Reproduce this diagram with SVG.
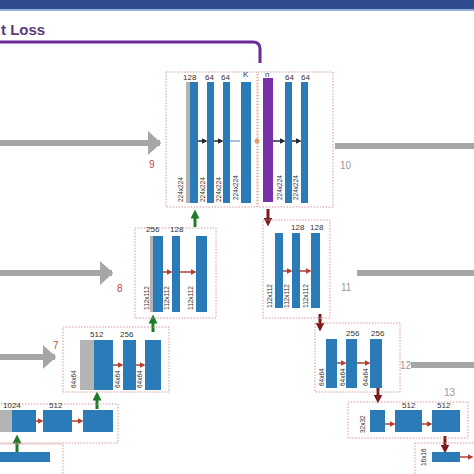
<svg xmlns="http://www.w3.org/2000/svg" width="474" height="474" viewBox="0 0 474 474">
<defs>
<style>
.box{fill:none;stroke:#d89a9a;stroke-width:1;stroke-dasharray:1.5 1.5}
.b{fill:#2b7bb9}
.g{fill:#b4b4b4}
.p{fill:#7a32a8}
.lbl{font-family:"Liberation Sans",Arial,sans-serif;font-size:8px;fill:#333}
.vl{font-family:"Liberation Sans",Arial,sans-serif;font-size:6.5px;fill:#333}
.num{font-family:"Liberation Sans",Arial,sans-serif;font-size:10px;fill:#c04848}
.numr{font-family:"Liberation Sans",Arial,sans-serif;font-size:10px;fill:#999}
.big{stroke:#a6a6a6;stroke-width:6;fill:none}
.sm{stroke:#1e2a3a;stroke-width:1.5;fill:none}
.smr{stroke:#b04030;stroke-width:1.5;fill:none}
</style>
<marker id="ga" markerWidth="4" markerHeight="4" refX="2" refY="2" orient="auto" markerUnits="strokeWidth"><path d="M0,0 L2.2,2 L0,4 z" fill="#a6a6a6"/></marker>
<marker id="da" markerWidth="4" markerHeight="4" refX="3" refY="2" orient="auto" markerUnits="strokeWidth"><path d="M0,0 L4,2 L0,4 z" fill="#1e2a3a"/></marker>
<marker id="ra" markerWidth="4" markerHeight="4" refX="3" refY="2" orient="auto" markerUnits="strokeWidth"><path d="M0,0 L4,2 L0,4 z" fill="#b04030"/></marker>
<marker id="gr" markerWidth="3" markerHeight="3" refX="1.5" refY="1.5" orient="auto" markerUnits="strokeWidth"><path d="M0,0 L3,1.5 L0,3 z" fill="#1f7a2a"/></marker>
<marker id="dr" markerWidth="3" markerHeight="3" refX="1.5" refY="1.5" orient="auto" markerUnits="strokeWidth"><path d="M0,0 L3,1.5 L0,3 z" fill="#7a1a1a"/></marker>
</defs>
<rect x="0" y="0" width="474" height="474" fill="#ffffff"/>
<rect x="0" y="0" width="474" height="9" fill="#2e4b8f"/>
<rect x="0" y="9" width="474" height="2" fill="#8fb0d8"/>
<text x="1" y="35" font-family="Liberation Sans,Arial,sans-serif" font-size="15" font-weight="bold" fill="#5a3a7a">t Loss</text>
<path d="M0,42 L253,42 Q260,42 260,49 L260,63" fill="none" stroke="#6a2a9a" stroke-width="3"/>

<g id="connectors">
<line class="big" x1="0" y1="143" x2="160" y2="143" marker-end="url(#ga)"/>
<line class="big" x1="335" y1="146" x2="474" y2="146"/>
<line class="big" x1="0" y1="273" x2="112" y2="273" marker-end="url(#ga)"/>
<line class="big" x1="357" y1="273" x2="474" y2="273"/>
<line class="big" x1="0" y1="357" x2="55" y2="357" marker-end="url(#ga)"/>
<line class="big" x1="411" y1="365" x2="474" y2="365"/>
<line stroke="#1f7a2a" stroke-width="3" x1="195" y1="227" x2="195" y2="214" marker-end="url(#gr)"/>
<line stroke="#1f7a2a" stroke-width="3" x1="153" y1="332" x2="153" y2="319" marker-end="url(#gr)"/>
<line stroke="#1f7a2a" stroke-width="3" x1="97" y1="409" x2="97" y2="396" marker-end="url(#gr)"/>
<line stroke="#1f7a2a" stroke-width="3" x1="17" y1="452" x2="17" y2="439" marker-end="url(#gr)"/>
<line stroke="#7a1a1a" stroke-width="3" x1="268" y1="209" x2="268" y2="222" marker-end="url(#dr)"/>
<line stroke="#7a1a1a" stroke-width="3" x1="320" y1="314" x2="320" y2="327" marker-end="url(#dr)"/>
<line stroke="#7a1a1a" stroke-width="3" x1="378" y1="386" x2="378" y2="399" marker-end="url(#dr)"/>
<line stroke="#7a1a1a" stroke-width="3" x1="445" y1="436" x2="445" y2="449" marker-end="url(#dr)"/>
</g>

<g id="node9">
<rect class="box" x="166" y="72" width="91" height="135"/>
<rect class="g" x="186" y="82" width="4" height="121"/>
<rect class="b" x="190" y="82" width="8" height="121"/>
<rect class="b" x="207" y="82" width="7" height="121"/>
<rect class="b" x="223" y="82" width="7" height="121"/>
<rect class="b" x="241" y="82" width="10" height="121"/>
<line class="sm" x1="198" y1="141" x2="206" y2="141" marker-end="url(#da)"/>
<line class="sm" x1="214" y1="141" x2="222" y2="141" marker-end="url(#da)"/>
<line stroke="#8ab0d0" stroke-width="1.5" x1="230" y1="141" x2="240" y2="141"/>
<circle cx="257" cy="141" r="2.5" fill="#e0a070"/>
<text class="lbl" x="183" y="80">128</text>
<text class="lbl" x="205" y="80">64</text>
<text class="lbl" x="221" y="80">64</text>
<text class="lbl" x="243" y="77" font-size="7">K</text>
<text class="vl" transform="translate(183,202) rotate(-90)">224x224</text>
<text class="vl" transform="translate(205,202) rotate(-90)">224x224</text>
<text class="vl" transform="translate(221,202) rotate(-90)">224x224</text>
<text class="vl" transform="translate(238,200) rotate(-90)">224x224</text>
<text class="num" x="149" y="168">9</text>
</g>

<g id="node10">
<rect class="box" x="258" y="72" width="75" height="135"/>
<rect class="p" x="263" y="78" width="10" height="124"/>
<rect class="b" x="285" y="82" width="7" height="121"/>
<rect class="b" x="301" y="82" width="7" height="121"/>
<line class="sm" x1="273" y1="141" x2="284" y2="141" marker-end="url(#da)"/>
<line class="sm" x1="292" y1="141" x2="300" y2="141" marker-end="url(#da)"/>
<text class="lbl" x="265" y="77" font-size="7">n</text>
<text class="lbl" x="285" y="80">64</text>
<text class="lbl" x="301" y="80">64</text>
<text class="vl" transform="translate(282,200) rotate(-90)">224x224</text>
<text class="vl" transform="translate(298,200) rotate(-90)">224x224</text>
<text class="numr" x="340" y="169">10</text>
</g>

<g id="node8">
<rect class="box" x="135" y="228" width="81" height="90"/>
<rect class="g" x="150" y="236" width="3" height="76"/>
<rect class="b" x="153" y="236" width="10" height="76"/>
<rect class="b" x="172" y="236" width="8" height="76"/>
<rect class="b" x="196" y="236" width="11" height="76"/>
<line class="smr" x1="163" y1="272" x2="171" y2="272" marker-end="url(#ra)"/>
<line class="smr" x1="180" y1="272" x2="195" y2="272" marker-end="url(#ra)"/>
<text class="lbl" x="146" y="232">256</text>
<text class="lbl" x="170" y="232">128</text>
<text class="vl" transform="translate(149,310) rotate(-90)">112x112</text>
<text class="vl" transform="translate(169,310) rotate(-90)">112x112</text>
<text class="vl" transform="translate(193,310) rotate(-90)">112x112</text>
<text class="num" x="117" y="292">8</text>
</g>

<g id="node11">
<rect class="box" x="263" y="220" width="67" height="98"/>
<rect class="b" x="275" y="233" width="8" height="75"/>
<rect class="b" x="292" y="233" width="8" height="75"/>
<rect class="b" x="311" y="233" width="9" height="75"/>
<line class="smr" x1="283" y1="271" x2="291" y2="271" marker-end="url(#ra)"/>
<line class="smr" x1="300" y1="271" x2="310" y2="271" marker-end="url(#ra)"/>
<text class="lbl" x="291" y="230">128</text>
<text class="lbl" x="310" y="230">128</text>
<text class="vl" transform="translate(272,308) rotate(-90)">112x112</text>
<text class="vl" transform="translate(289,308) rotate(-90)">112x112</text>
<text class="vl" transform="translate(308,308) rotate(-90)">112x112</text>
<text class="numr" x="341" y="291">11</text>
</g>

<g id="node7">
<rect class="box" x="63" y="327" width="106" height="65"/>
<rect class="g" x="80" y="340" width="14" height="50"/>
<rect class="b" x="94" y="340" width="19" height="50"/>
<rect class="b" x="123" y="340" width="13" height="50"/>
<rect class="b" x="145" y="340" width="16" height="50"/>
<line class="smr" x1="113" y1="365" x2="122" y2="365" marker-end="url(#ra)"/>
<line class="smr" x1="136" y1="365" x2="144" y2="365" marker-end="url(#ra)"/>
<text class="lbl" x="90" y="337">512</text>
<text class="lbl" x="120" y="337">256</text>
<text class="vl" transform="translate(76,388) rotate(-90)">64x64</text>
<text class="vl" transform="translate(120,388) rotate(-90)">64x64</text>
<text class="vl" transform="translate(142,388) rotate(-90)">64x64</text>
<text class="num" x="53" y="349">7</text>
</g>

<g id="node12">
<rect class="box" x="315" y="323" width="85" height="69"/>
<rect class="b" x="326" y="339" width="11" height="49"/>
<rect class="b" x="346" y="339" width="11" height="49"/>
<rect class="b" x="370" y="339" width="12" height="49"/>
<line class="smr" x1="337" y1="363" x2="345" y2="363" marker-end="url(#ra)"/>
<line class="smr" x1="357" y1="363" x2="369" y2="363" marker-end="url(#ra)"/>
<text class="lbl" x="346" y="336">256</text>
<text class="lbl" x="371" y="336">256</text>
<text class="vl" transform="translate(324,386) rotate(-90)">64x64</text>
<text class="vl" transform="translate(345,386) rotate(-90)">64x64</text>
<text class="vl" transform="translate(368,386) rotate(-90)">64x64</text>
<text class="numr" x="400" y="369" fill="#d08060">12</text>
</g>

<g id="node6">
<rect class="box" x="-2" y="404" width="120" height="39"/>
<rect class="g" x="0" y="410" width="12" height="22"/>
<rect class="b" x="12" y="410" width="24" height="22"/>
<rect class="b" x="43" y="410" width="29" height="22"/>
<rect class="b" x="83" y="410" width="30" height="22"/>
<line class="smr" x1="36" y1="421" x2="42" y2="421" marker-end="url(#ra)"/>
<line class="smr" x1="72" y1="421" x2="82" y2="421" marker-end="url(#ra)"/>
<text class="lbl" x="3" y="408">1024</text>
<text class="lbl" x="49" y="408">512</text>
</g>

<g id="node5">
<rect class="box" x="-2" y="444" width="65" height="32"/>
<rect class="b" x="0" y="452" width="50" height="10"/>
</g>

<g id="node13">
<rect class="box" x="348" y="402" width="120" height="36"/>
<rect class="b" x="370" y="410" width="15" height="22"/>
<rect class="b" x="395" y="410" width="27" height="22"/>
<rect class="b" x="432" y="410" width="28" height="22"/>
<line class="smr" x1="385" y1="424" x2="394" y2="424" marker-end="url(#ra)"/>
<line class="smr" x1="422" y1="424" x2="431" y2="424" marker-end="url(#ra)"/>
<text class="lbl" x="402" y="408">512</text>
<text class="lbl" x="437" y="408">512</text>
<text class="vl" transform="translate(365,433) rotate(-90)">32x32</text>
<text class="numr" x="444" y="396">13</text>
</g>

<g id="node14">
<rect class="box" x="415" y="443" width="62" height="33"/>
<rect class="b" x="432" y="452" width="28" height="10"/>
<line class="smr" x1="460" y1="457" x2="472" y2="457" marker-end="url(#ra)"/>
<text class="vl" transform="translate(426,466) rotate(-90)">16x16</text>
</g>
</svg>
